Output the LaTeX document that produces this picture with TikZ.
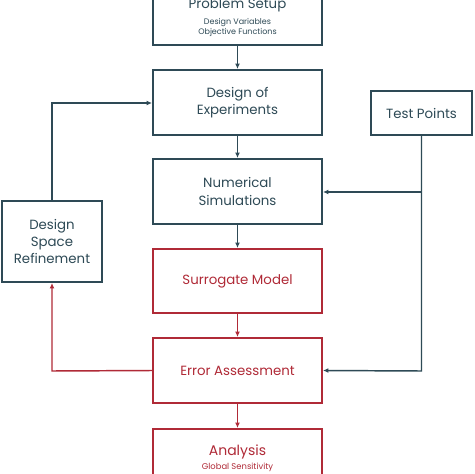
\documentclass[tikz,border=0pt]{standalone}
\usepackage{fontspec}
\setmainfont{Poppins}
\usetikzlibrary{arrows.meta}
\definecolor{tealc}{HTML}{2E4A56}
\definecolor{redc}{HTML}{B02A37}
\begin{document}
\begin{tikzpicture}[x=0.75pt,y=-0.75pt,
  box/.style={draw=tealc,line width=1.5pt,rectangle,inner sep=0pt,align=center,text=tealc,font=\fontsize{10}{13}\selectfont},
  rbox/.style={box,draw=redc,text=redc},
  mainbox/.style={minimum width=126.75pt,minimum height=48.75pt},
  link/.style={draw=tealc,line width=1.1pt,-{Latex[length=4pt,width=3.6pt]}},
  rlink/.style={link,draw=redc}
]
\useasboundingbox (0,0) rectangle (474,474);
\clip (0,0) rectangle (474,474);
\fill[white] (0,0) rectangle (474,474);
\node[box,mainbox] (ps) at (237.5,12.5) {};
\node[text=tealc,font=\fontsize{10}{12}\selectfont] (pst) at (237.5,5) {Problem Setup};
\node[text=tealc,align=center,font=\fontsize{6}{8.2}\selectfont] (pss) at (237.5,27.5) {Design Variables\\Objective Functions};
\node[box,mainbox] (doe) at (237.5,102.5) {Design of\\Experiments};
\node[box,mainbox] (ns) at (237.5,191.5) {Numerical\\Simulations};
\node[rbox,mainbox,minimum height=48pt] (sm) at (237.5,281) {Surrogate Model};
\node[rbox,mainbox] (ea) at (237.5,370.5) {Error Assessment};
\node[rbox,mainbox] (an) at (237.5,461.5) {};
\node[text=redc,font=\fontsize{10.5}{12}\selectfont] (ant) at (237.5,452) {Analysis};
\node[text=redc,font=\fontsize{6.3}{8}\selectfont] (ans) at (237.5,467) {Global Sensitivity};
\node[box,minimum width=75pt,minimum height=60.75pt] (dsr) at (52,241.5) {Design\\Space\\Refinement};
\node[box,minimum width=75.75pt,minimum height=33pt] (tp) at (421.5,113) {Test Points};
\coordinate (c1) at (52,103);
\coordinate (c2) at (52,371);
\coordinate (c3) at (421.5,192);
\coordinate (c4) at (421.5,371);
\draw[link] (ps.south) -- (doe.north);
\draw[link] (doe.south) -- (ns.north);
\draw[link] (ns.south) -- (sm.north);
\draw[rlink] (sm.south) -- (ea.north);
\draw[rlink] (ea.south) -- (an.north);
\draw[link] (dsr.north) -- (c1) -- (doe.west |- c1);
\draw[rlink] (ea.west) -- (c2) -- (dsr.south);
\draw[link] (tp.south) -- (c4) -- (ea.east);
\draw[link] (c3) -- (ns.east |- c3);
\end{tikzpicture}
\end{document}
